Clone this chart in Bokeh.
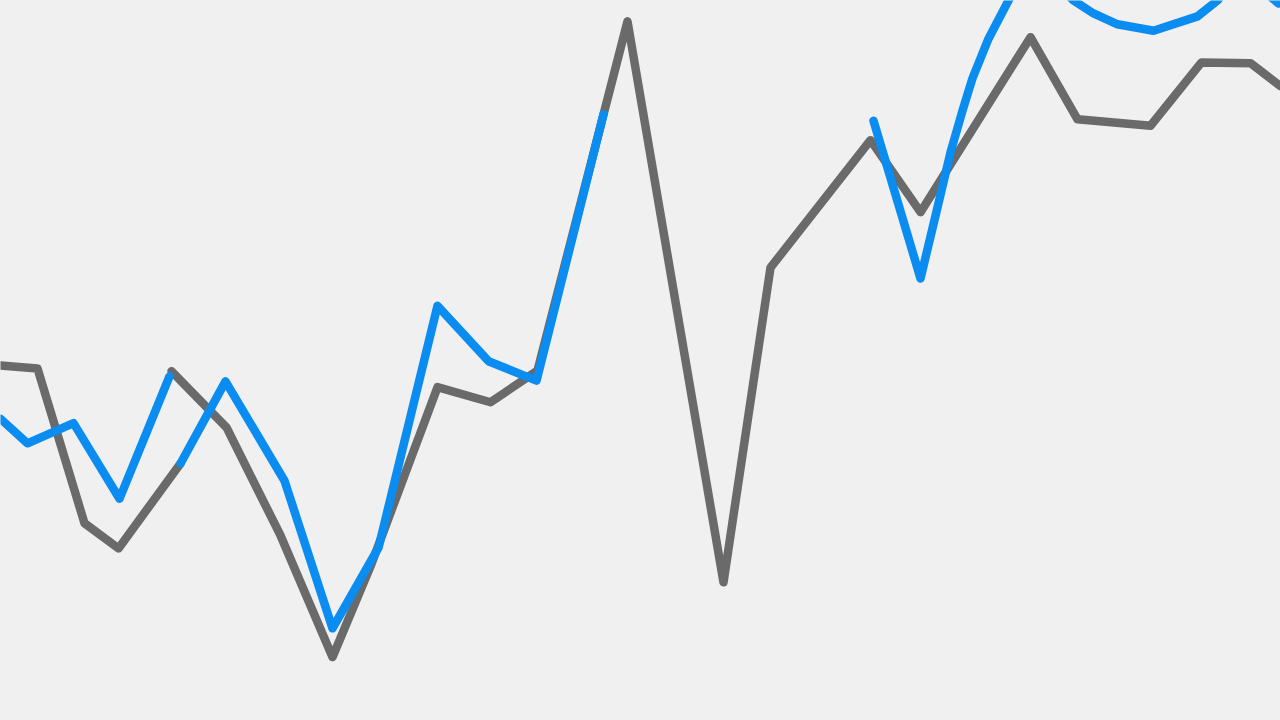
import numpy as np
from bokeh.plotting import figure
from bokeh.models import Range1d, GlobalInlineStyleSheet
from bokeh.embed import file_html
from bokeh.resources import INLINE

nan = np.nan

# Gray series (two visible runs separated by a gap)
gray_x = [0.0, 3.7, 8.4, 11.8, 18.0, nan,
          17.1, 22.6, 28.0, 33.2, 37.0, 43.7, 49.0, 53.7, 62.7, 72.3,
          77.0, 87.0, 92.0, 103.0, 107.7, 115.0, 120.1, 125.0, 128.0]
gray_y = [49.3, 48.9, 27.4, 23.9, 35.7, nan,
          48.5, 40.7, 25.7, 8.8, 21.4, 46.3, 44.2, 48.6, 97.1, 19.2,
          62.9, 80.6, 70.6, 94.9, 83.5, 82.6, 91.4, 91.3, 88.1]

# Blue series (with gaps)
blue_x = [0.0, 2.7, 7.3, 11.9, 16.9, nan,
          18.0, 22.5, 28.4, 33.2, 37.8, 43.7, 48.8, 53.6, 60.3, nan,
          87.3, 92.0, 93.5, 95.0, 96.2, 97.2, 98.8, 100.8, 103.0, 105.5,
          107.3, 109.3, 111.7, 115.3, 119.7, 121.7, 124.0, 126.5, 127.8, 129.0]
blue_y = [41.9, 38.5, 41.3, 30.8, 47.8, nan,
          35.7, 47.1, 33.3, 12.8, 24.0, 57.6, 49.9, 47.2, 84.2, nan,
          83.3, 61.4, 70.1, 78.9, 84.7, 89.2, 94.7, 100.0, 105.6, 102.5,
          100.0, 98.2, 96.7, 95.8, 97.8, 100.0, 104.2, 101.1, 99.6, 100.8]

BG = "#f0f0f0"
GRAY = "#6a6a6a"
BLUE = "#0a8cf0"

p = figure(width=1280, height=720, output_backend="svg", toolbar_location=None,
           x_range=Range1d(0, 128), y_range=Range1d(0, 100),
           min_border=0, min_border_left=0, min_border_right=0,
           min_border_top=0, min_border_bottom=0)
p.axis.visible = False
p.grid.visible = False
p.outline_line_color = None
p.background_fill_color = BG
p.border_fill_color = BG

p.line(np.array(gray_x), np.array(gray_y), line_color=GRAY, line_width=8.5,
       line_join="round", line_cap="round")
p.line(np.array(blue_x), np.array(blue_y), line_color=BLUE, line_width=8.5,
       line_join="round", line_cap="round")

p.stylesheets = [GlobalInlineStyleSheet(
    css="html,body{margin:0;padding:0;overflow:hidden;background:#f0f0f0;}")]

open("out.html", "w").write(file_html(p, INLINE))
